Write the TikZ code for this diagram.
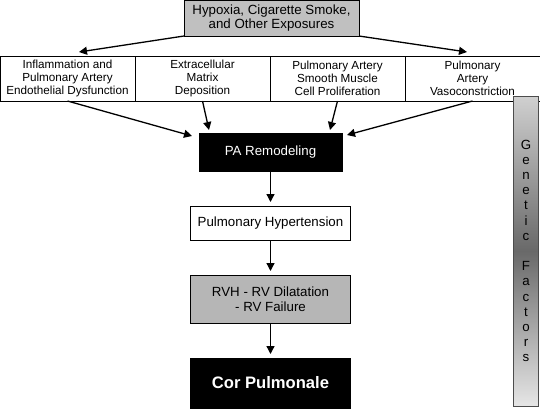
\documentclass[tikz,border=0pt]{standalone}
\usepackage{fontspec}
\setmainfont{Liberation Sans}
\usepackage{xcolor}
\usepackage{tikz}
\usetikzlibrary{arrows.meta,positioning}

\definecolor{boxgray}{RGB}{192,192,192}
\definecolor{rvhgray}{RGB}{182,182,182}
\definecolor{gentop}{RGB}{208,208,208}
\definecolor{genmid}{RGB}{105,105,105}
\definecolor{genbot}{RGB}{230,230,230}

\begin{document}
\begin{tikzpicture}[
      x=1pt, y=-1pt,
      mybox/.style={
         rectangle,
         draw=black,
         line width=0.8pt,
         align=center,
         inner sep=0pt,
         outer sep=0pt,
         font=\fontsize{13.3}{13.3}\selectfont},
      rowbox/.style={
         mybox,
         minimum width=135pt,
         minimum height=45pt,
         font=\fontsize{11.7}{13.3}\selectfont},
      midbox/.style={
         mybox,
         minimum width=160pt},
      myarrow/.style={-{Triangle[length=8pt,width=8pt]}, line width=1.3pt},
      node distance=35pt and 0pt
      ]
\useasboundingbox (0,0) rectangle (540,408);

\node[mybox,fill=boxgray,minimum width=175pt,minimum height=36pt] (hyp) at (271.5,18) {Hypoxia, Cigarette Smoke,\\and Other Exposures};

\node[rowbox                ] (inf) at (67.5,78.5) {Inflammation and\\Pulmonary Artery\\Endothelial Dysfunction};
\node[rowbox,right=of inf   ] (ecm) {Extracellular\\Matrix\\Deposition};
\node[rowbox,right=of ecm   ] (smc) {Pulmonary Artery\\Smooth Muscle\\Cell Proliferation};
\node[rowbox,right=of smc   ] (vaso) {Pulmonary\\Artery\\Vasoconstriction};

\node[mybox,fill=black,text=white,minimum width=143pt,minimum height=38pt] (parem) at (270.5,152) {PA Remodeling};
\node[midbox,below=of parem,minimum height=34pt] (ph) {Pulmonary Hypertension};
\node[midbox,below=of ph,fill=rvhgray,minimum height=48pt,font=\fontsize{13.3}{15}\selectfont] (rvh) {RVH - RV Dilatation\\- RV Failure};
\node[midbox,below=of rvh,fill=black,text=white,minimum height=50pt,font=\bfseries\fontsize{16.6}{18}\selectfont] (cor) {Cor Pulmonale};

% genetic factors bar
\node[draw=black!70,line width=0.8pt,top color=gentop,bottom color=genbot,middle color=genmid,
      minimum width=25pt,minimum height=310pt,inner sep=0pt,align=center,
      font=\fontsize{13.3}{15.2}\selectfont] (gen) at (526,251)
      {G\\e\\n\\e\\t\\i\\c\\[15.2pt]F\\a\\c\\t\\o\\r\\s};

\coordinate (t1) at ([xshift=-7pt,yshift=-3pt]parem.north west);
\coordinate (t2) at ([xshift=10pt,yshift=3pt]parem.north west);
\coordinate (t3) at ([xshift=-12pt,yshift=3pt]parem.north east);
\coordinate (t4) at ([xshift=5pt,yshift=-2pt]parem.north east);
\coordinate (t5) at ([xshift=11.5pt,yshift=4pt]inf.north);
\coordinate (t6) at ([xshift=-5.5pt,yshift=4pt]vaso.north);

\foreach \i/\j in {% start node/end node
      hyp.south west/t5,hyp.south east/t6,
      inf.south/t1,ecm.south/t2,smc.south/t3,vaso.south/t4}
       \draw[myarrow] (\i) -- (\j);

\foreach \i/\j in {parem/ph,ph/rvh,rvh/cor}
       \draw[myarrow,shorten >=4pt] (\i) -- (\j);

\end{tikzpicture}
\end{document}
